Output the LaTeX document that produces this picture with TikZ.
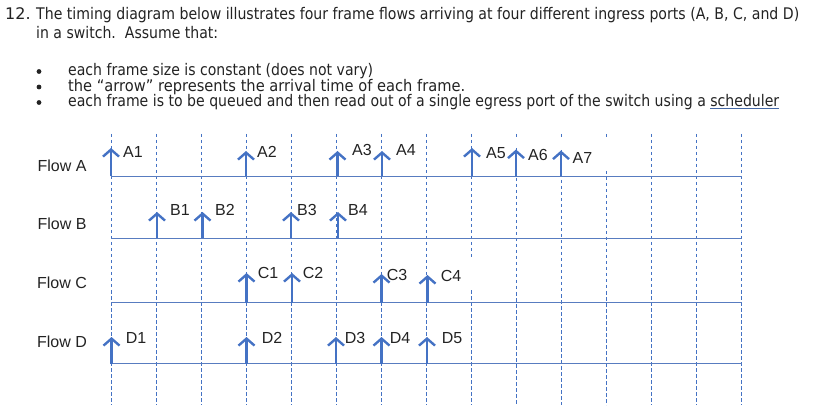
\documentclass[tikz,border=0pt]{standalone}
\usepackage{graphicx}
\usepackage{fontspec}
\setmainfont{Liberation Sans}
\newfontfamily\qfont{DejaVu Sans}
\usetikzlibrary{arrows.meta}
\definecolor{ablue}{RGB}{68,114,196}
\definecolor{lblue}{RGB}{88,124,192}
\definecolor{txt}{RGB}{35,35,35}
\definecolor{ulblue}{RGB}{70,105,165}
\begin{document}
\begin{tikzpicture}[x=1pt,y=-1pt,
  qtext/.style={font=\qfont\fontsize{16}{19}\selectfont, text=txt, anchor=base west, inner sep=0pt},
  qbullet/.style={circle, fill=txt, inner sep=0pt, minimum size=4.8pt},
  lab/.style={font=\fontsize{16}{18}\selectfont, text=txt, inner sep=0pt},
  flowlab/.style={font=\fontsize{16}{18}\selectfont, text=txt, inner sep=0pt},
  gridline/.style={draw=ablue, line width=0.8pt, dash pattern=on 3.5pt off 2.5pt},
  axis/.style={draw=lblue, line width=1.2pt},
  arr/.style={draw=ablue, line width=2.6pt, -{Straight Barb[length=7pt,width=16pt,line width=2.4pt]}}
]
\useasboundingbox (0,0) rectangle (833,414);
% question text
\node[qtext] (qnum) at (5,19.5) {12.};
\node[qtext] (q1) at (36,19.5) {\resizebox{763pt}{\height}{The timing diagram below illustrates four frame flows arriving at four different ingress ports (A, B, C, and D)}};
\node[qtext] (q2) at (36,38.5) {\resizebox{182pt}{\height}{in a switch.\ \ Assume that:}};
\node[qbullet] (b1) at (39,71.5) {};
\node[qbullet] (b2) at (39,87) {};
\node[qbullet] (b3) at (39,102.5) {};
\node[qtext] (t1) at (68,76) {\resizebox{305pt}{\height}{each frame size is constant (does not vary)}};
\node[qtext] (t2) at (68,91.5) {\resizebox{397pt}{\height}{the “arrow” represents the arrival time of each frame.}};
\node[qtext] (t3) at (68,107) {\resizebox{711pt}{\height}{each frame is to be queued and then read out of a single egress port of the switch using a {\color{ulblue}\underline{{\color{txt}scheduler}}}}};
% grid lines
\foreach \i in {0,...,7,12,13,14} {
  \coordinate (gt\i) at ({111+45.05*\i},134);
  \coordinate (gb\i) at ({111+45.05*\i},405);
  \draw[gridline] (gt\i) -- (gb\i);
}
\coordinate (gt8) at ({111+45.05*8},134);
\coordinate (gm8a) at ({111+45.05*8},257);
\coordinate (gm8b) at ({111+45.05*8},290);
\coordinate (gb8) at ({111+45.05*8},405);
\draw[gridline] (gt8) -- (gm8a) (gm8b) -- (gb8);
\foreach \i/\ga/\gb in {9/137/148, 10/137/150, 11/138/171} {
  \coordinate (gt\i) at ({111+45.05*\i},134);
  \coordinate (gma\i) at ({111+45.05*\i},\ga);
  \coordinate (gmb\i) at ({111+45.05*\i},\gb);
  \coordinate (gb\i) at ({111+45.05*\i},405);
  \draw[gridline] (gt\i) -- (gma\i) (gmb\i) -- (gb\i);
}
% flow lines and labels
\foreach \f/\y/\ly in {A/176.5/166, B/238.5/224, C/302.5/283, D/363.5/342} {
  \coordinate (L\f) at (111,\y);
  \coordinate (R\f) at (742,\y);
  \draw[axis] (L\f) -- (R\f);
  \node[flowlab] (flow\f) at (62,\ly) {Flow \f};
}
% arrows: name / x / base y / top y / label x / label y
\foreach \n/\x/\b/\t/\lx/\ly in {
  A1/111/176.5/148/133/152, A2/246/176.5/151/267/152, A3/337.5/176.5/151/362/150, A4/382/176.5/151/406/150,
  A5/472/176.5/148/496/153, A6/516/176.5/149.5/538/154.5, A7/561/176.5/150.5/582.5/158,
  B1/157/238.5/212/180/210, B2/202.5/238.5/212/225/210, B3/291/238.5/212/307/210, B4/338/238.5/212/358/210,
  C1/246.5/302.5/273/268/273, C2/292/302.5/273/313/273, C3/381.5/302.5/274/397/275, C4/427.5/302.5/275/451/276,
  D1/111.5/363.5/337/136/338, D2/246.5/363.5/337/272/338, D3/336/363.5/337/355/338, D4/381.5/363.5/337/400/338, D5/427/363.5/337/452/338} {
  \coordinate (\n b) at (\x,\b);
  \coordinate (\n t) at (\x,\t);
  \draw[arr] (\n b) -- (\n t);
  \node[lab] (\n) at (\lx,\ly) {\n};
}
\end{tikzpicture}
\end{document}
